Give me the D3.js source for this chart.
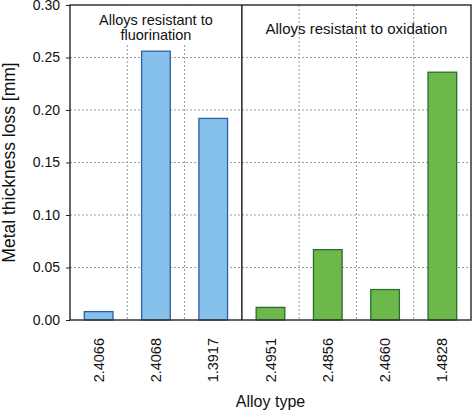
<!DOCTYPE html>
<html><head><meta charset="utf-8">
<script src="https://cdn.jsdelivr.net/npm/d3@7"></script>
<style>body{margin:0;background:#fff}svg{display:block}text{font-family:"Liberation Sans",Arial,Helvetica,sans-serif;fill:#111}</style>
</head><body><svg id="c" width="474" height="413"></svg>
<script>
const categories = ["2.4066","2.4068","1.3917","2.4951","2.4856","2.4660","1.4828"];
const values = [0.008, 0.256, 0.192, 0.012, 0.067, 0.029, 0.236];
const groups = ["fluor","fluor","fluor","oxid","oxid","oxid","oxid"];
const yTicks = [0.00,0.05,0.10,0.15,0.20,0.25,0.30];
const groupLabels = [["Alloys resistant to","fluorination"],["Alloys resistant to oxidation"]];

const svg = d3.select("#c");
const m = {l:70, r:471, t:5, b:320};
const x = d3.scaleBand().domain(categories).range([m.l, m.r]).padding(0);
const y = d3.scaleLinear().domain([0,0.30]).range([m.b, m.t]);
const fill = d3.scaleOrdinal().domain(["fluor","oxid"]).range(["#86c1ec","#6cb84b"]);
const stroke = d3.scaleOrdinal().domain(["fluor","oxid"]).range(["#2c5ea6","#2b6d2d"]);

// grid
const g = svg.append("g");
g.selectAll("line.h").data(yTicks.slice(1,-1)).join("line")
  .attr("x1", m.l).attr("x2", m.r).attr("y1", d=>y(d)).attr("y2", d=>y(d))
  .attr("stroke","#9a9a9a").attr("stroke-dasharray","2,2").attr("stroke-width",1);
const vIdx = [1,2,4,5,6];
g.selectAll("line.v").data(vIdx).join("line")
  .attr("x1", i=>x(categories[i])).attr("x2", i=>x(categories[i]))
  .attr("y1", m.t).attr("y2", m.b)
  .attr("stroke","#9a9a9a").attr("stroke-dasharray","2,2").attr("stroke-width",1);

// bars
const bw = x.bandwidth()*0.5;
svg.selectAll("rect.bar").data(categories).join("rect")
  .attr("x", (c)=>x(c)+(x.bandwidth()-bw)/2)
  .attr("width", bw)
  .attr("y", (c,i)=>y(values[i]))
  .attr("height", (c,i)=>y(0)-y(values[i]))
  .attr("fill",(c,i)=>fill(groups[i]))
  .attr("stroke",(c,i)=>stroke(groups[i]))
  .attr("stroke-width",1.3);

// frame
svg.append("rect").attr("x",m.l).attr("y",m.t).attr("width",m.r-m.l).attr("height",m.b-m.t)
  .attr("fill","none").attr("stroke","#333").attr("stroke-width",1.5);
// divider
const divX = x(categories[3]);
svg.append("line").attr("x1",divX).attr("x2",divX).attr("y1",m.t).attr("y2",m.b)
  .attr("stroke","#222").attr("stroke-width",1.5);

// group labels
const leftC = (m.l+divX)/2, rightC = (divX+m.r)/2;
svg.append("rect").attr("x",leftC-60).attr("y",m.t+1).attr("width",120).attr("height",39).attr("fill","#fff");
svg.append("text").attr("x",leftC).attr("y",25).attr("text-anchor","middle").attr("font-size",14.5).text(groupLabels[0][0]);
svg.append("text").attr("x",leftC).attr("y",40).attr("text-anchor","middle").attr("font-size",14.5).text(groupLabels[0][1]);
svg.append("text").attr("x",rightC).attr("y",34).attr("text-anchor","middle").attr("font-size",15).text(groupLabels[1][0]);

// y axis
const ya = svg.append("g").attr("transform",`translate(${m.l},0)`)
  .call(d3.axisLeft(y).tickValues(yTicks).tickFormat(d3.format(".2f")).tickSize(4).tickPadding(6));
ya.select(".domain").remove();
ya.selectAll("line").attr("stroke","#222");
ya.selectAll("text").attr("font-size",14).attr("font-family","'Liberation Sans',Arial,sans-serif").attr("fill","#111");

// x axis
const xa = svg.append("g").attr("transform",`translate(0,${m.b})`)
  .call(d3.axisBottom(x).tickSize(0).tickPadding(0));
xa.select(".domain").remove();
xa.selectAll("text").attr("font-size",14.5).attr("font-family","'Liberation Sans',Arial,sans-serif").attr("fill","#111")
  .attr("text-anchor","end").attr("transform","rotate(-90)")
  .attr("x",-18).attr("y",0).attr("dy","0.35em");

// axis titles
svg.append("text").attr("transform",`translate(15,${(m.t+m.b)/2}) rotate(-90)`)
  .attr("text-anchor","middle").attr("font-size",17.5).text("Metal thickness loss [mm]");
svg.append("text").attr("x",(m.l+m.r)/2).attr("y",407).attr("text-anchor","middle").attr("font-size",16).text("Alloy type");
</script></body></html>
